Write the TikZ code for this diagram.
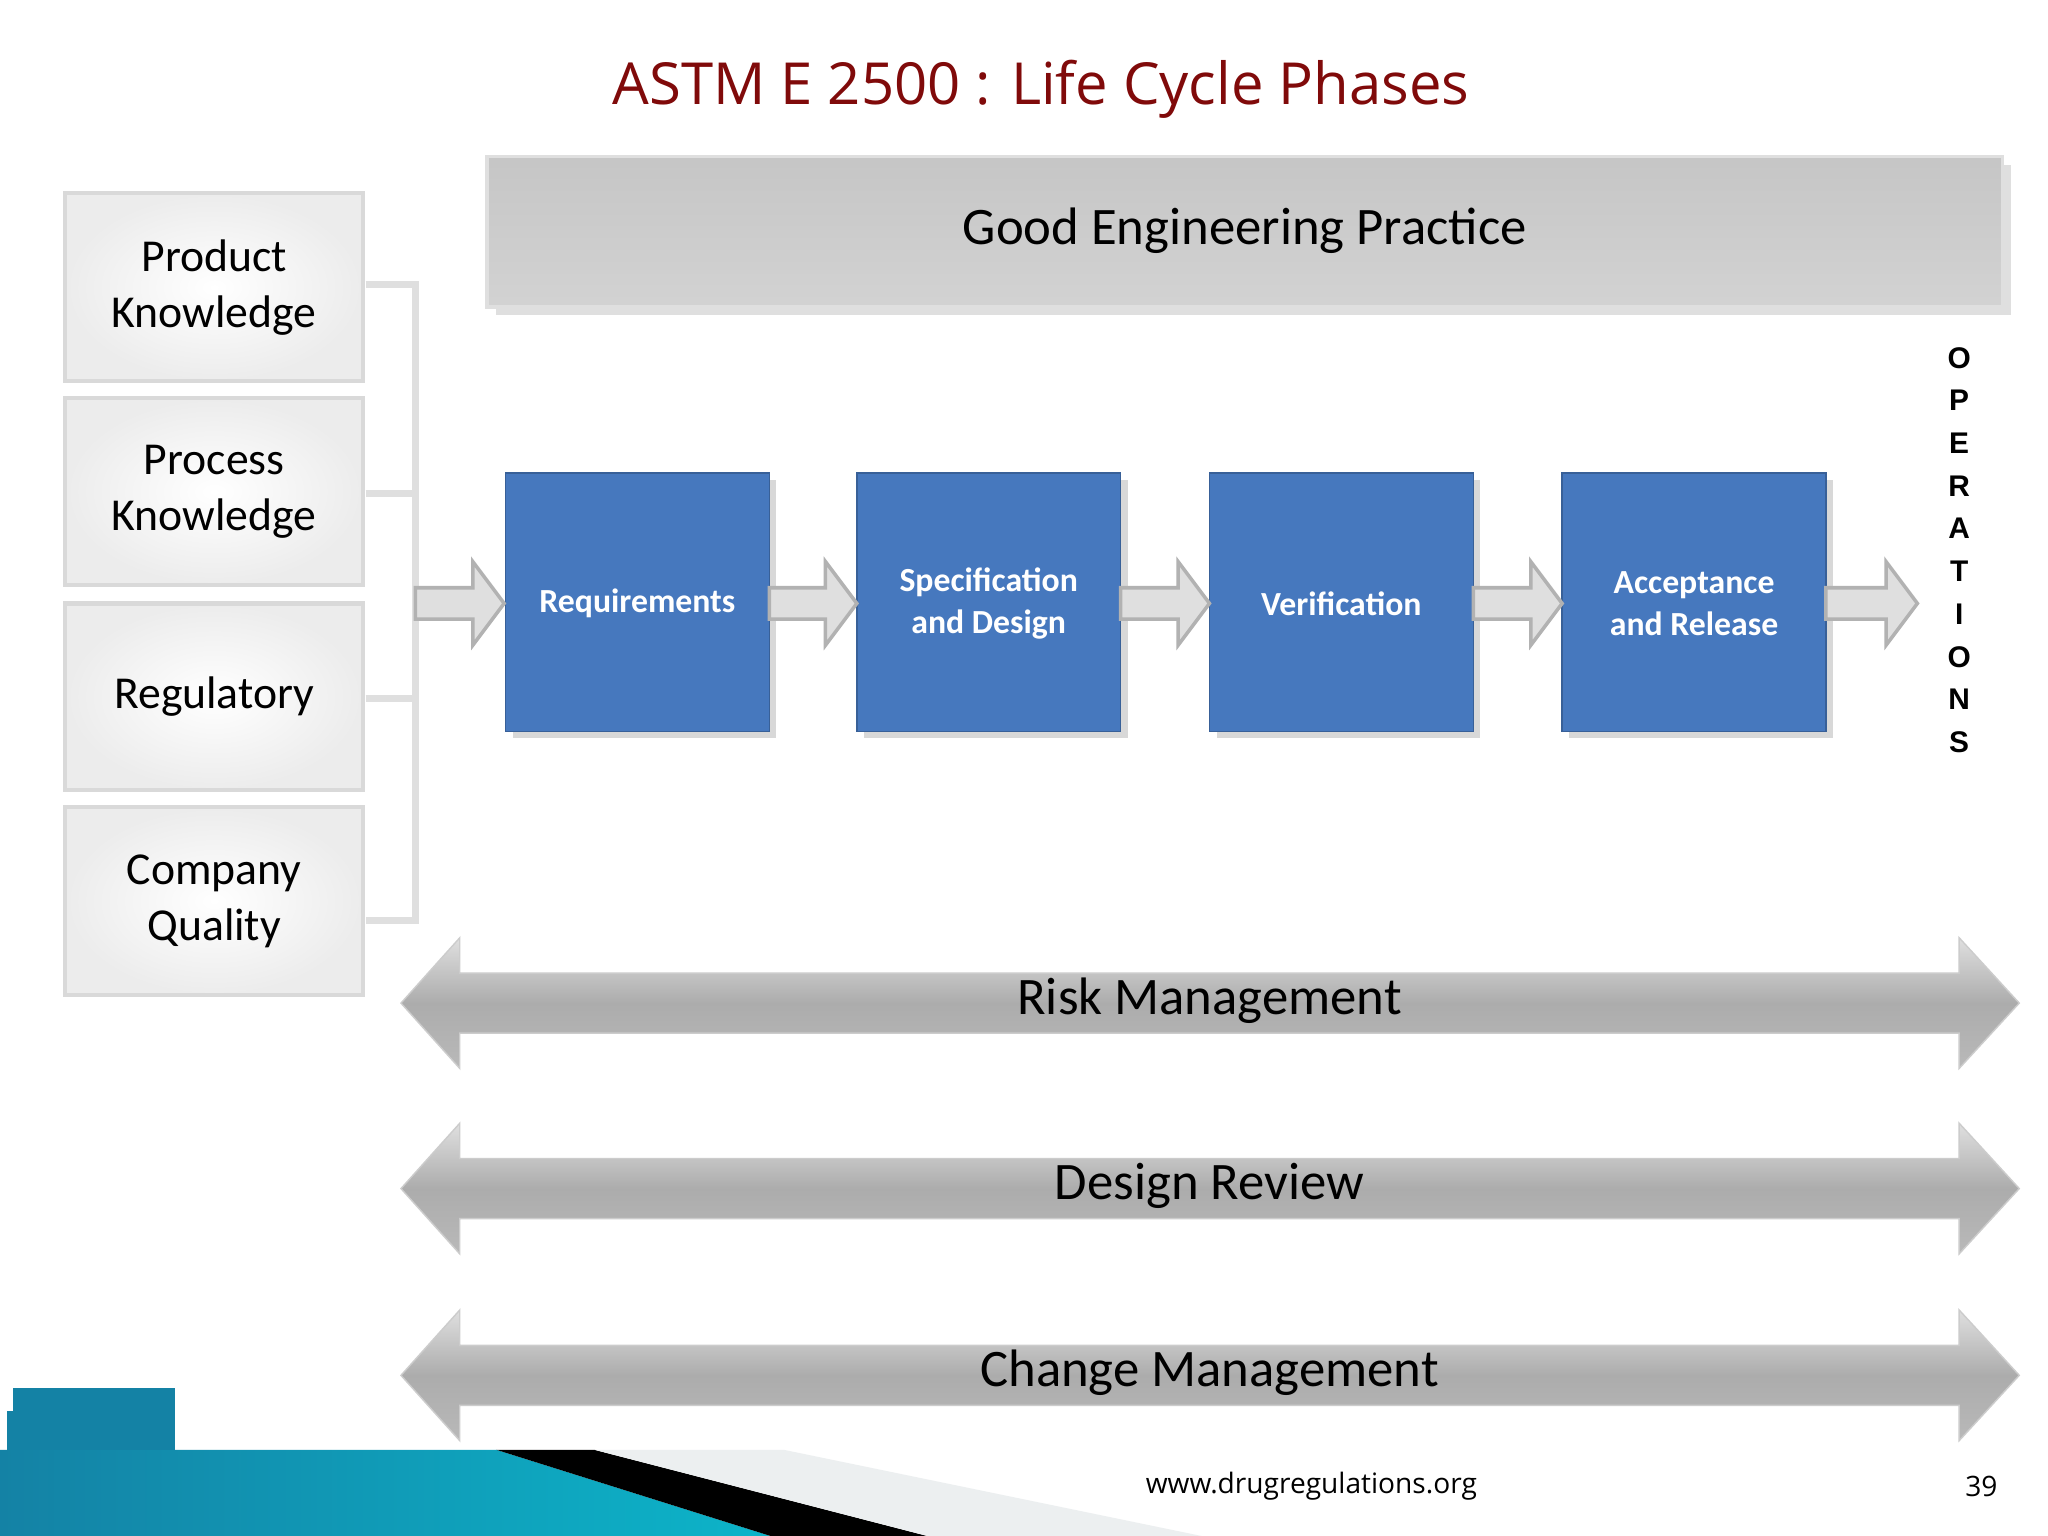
\documentclass[tikz,border=0pt]{standalone}
\usepackage{fontspec}
\setmainfont{Carlito}
\newfontfamily\opf{Open Sans}
\newfontfamily\ops{Liberation Sans}
\usetikzlibrary{shapes.arrows,shadows}
\definecolor{ttl}{RGB}{128,10,10}
\definecolor{bluebox}{RGB}{70,120,190}
\definecolor{teal}{RGB}{20,130,165}
\begin{document}
\begin{tikzpicture}[x=0.013061cm,y=-0.013061cm,
  blue/.style={fill=bluebox,draw=bluebox!80!black,drop shadow={opacity=0.3,shadow xshift=2pt,shadow yshift=-2pt}},
  lt/.style={font=\fontsize{13pt}{16pt}\selectfont,align=center},
  bt/.style={text=white,font=\bfseries\fontsize{9.6pt}{12pt}\selectfont,align=center},
  rarr/.style={fill=gray!25,draw=gray!60,line width=1pt},
  dbl/.style={top color=gray!25,bottom color=gray!55,middle color=gray!65,draw=gray!40},
  bigt/.style={font=\fontsize{15pt}{17pt}\selectfont}]
\useasboundingbox (0,0) rectangle (1568,1176);
\fill[white] (0,0) rectangle (1568,1176);
\node[text=ttl,font=\opf\fontsize{16.5pt}{20pt}\selectfont] (title) at (797,68) {ASTM E 2500 : Life Cycle Phases};
% GEP
\shade[top color=gray!45,bottom color=gray!35,drop shadow={opacity=0.25}] (373,120) rectangle (1533,235);
\draw[gray!25,line width=1pt] (373,120) rectangle (1533,235);
\node[bigt] (gep) at (953,177) {Good Engineering Practice};
% left boxes
\foreach \n/\ya/\yb/\t in {pk/148/292/{Product\\Knowledge},prk/305/448/{Process\\Knowledge},reg/462/605/{Regulatory},cq/618/762/{Company\\Quality}}{
  \shade[inner color=white,outer color=gray!15] (50,\ya) rectangle (278,\yb);
  \draw[gray!30,line width=1.2pt] (50,\ya) rectangle (278,\yb);
  \node[lt] (\n) at (164,{(\ya+\yb)/2}) {\t};
}
% bracket
\draw[gray!25,line width=2pt] (280,218) -- (318,218) -- (318,705) -- (280,705);
\draw[gray!25,line width=2pt] (280,378) -- (318,378);
\draw[gray!25,line width=2pt] (280,535) -- (318,535);
% blue boxes
\foreach \n/\xa/\t in {b1/387/{Requirements},b2/656/{Specification\\and Design},b3/926/{Verification},b4/1196/{Acceptance\\and Release}}{
  \fill[blue] (\xa,362) rectangle ({\xa+202},560);
  \node[bt] (\n) at ({\xa+101},462) {\t};
}
% right arrows
\foreach \xa/\xb in {318/386,589/656,858/926,1128/1196,1398/1468}{
  \draw[rarr] (\xa,450) -- ({\xb-24},450) -- ({\xb-24},430) -- (\xb,462) -- ({\xb-24},494) -- ({\xb-24},474) -- (\xa,474) -- cycle;
}
% OPERATIONS
\foreach \l [count=\i from 0] in {O,P,E,R,A,T,I,O,N,S}{
  \node[font=\ops\bfseries\fontsize{8.5pt}{10pt}\selectfont] at (1500,{274+32.7*\i}) {\l};
}
% double arrows
\foreach \n/\yc/\t in {rm/768/{Risk Management},dr/910/{Design Review},chm/1053/{Change Management}}{
  \shade[dbl] (307,\yc) -- (352,{\yc-50}) -- (352,{\yc-23}) -- (1500,{\yc-23}) -- (1500,{\yc-50}) -- (1546,\yc) -- (1500,{\yc+50}) -- (1500,{\yc+23}) -- (352,{\yc+23}) -- (352,{\yc+50}) -- cycle;
  \node[bigt] (\n) at (926,{\yc-2}) {\t};
}
% bottom band
\shade[left color=teal,right color=teal!60!cyan] (0,1110) -- (380,1110) -- (590,1176) -- (0,1176) -- cycle;
\fill[teal] (10,1063) rectangle (134,1110);
\fill[teal] (5,1080) rectangle (12,1110);
\fill[black] (380,1110) -- (455,1110) -- (710,1176) -- (590,1176) -- cycle;
\fill[cyan!12!gray!15] (455,1110) -- (600,1110) -- (920,1176) -- (710,1176) -- cycle;
\node[font=\opf\fontsize{8pt}{10pt}\selectfont] (url) at (1004,1138) {www.drugregulations.org};
\node[font=\opf\fontsize{8pt}{10pt}\selectfont] (pg) at (1517,1138) {39};
\end{tikzpicture}
\end{document}
